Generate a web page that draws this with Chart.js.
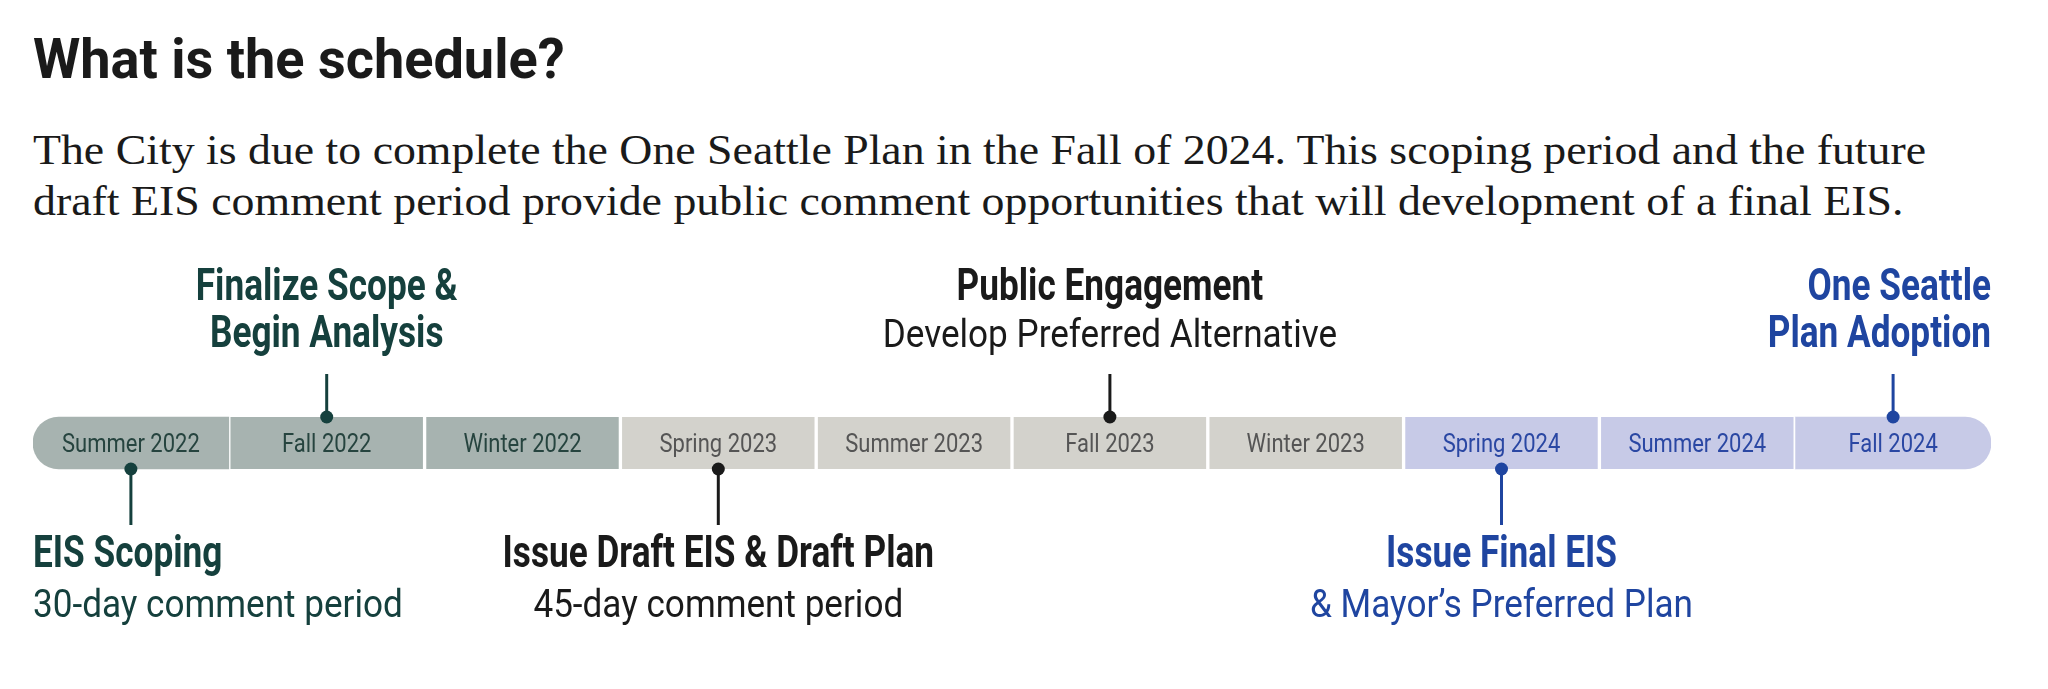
<!DOCTYPE html>
<html><head><meta charset="utf-8">
<script src="https://cdn.jsdelivr.net/npm/chart.js@4"></script>
<style>
html,body{margin:0;padding:0;background:#fff;width:2048px;height:689px;overflow:hidden;position:relative}
#h{position:absolute;left:33px;top:26px;font:700 56px Roboto;color:#1a1a1a;white-space:nowrap;transform-origin:0 0;margin:0}
.p{position:absolute;left:33px;font:42px "Liberation Serif";color:#1a1a1a;white-space:nowrap;transform-origin:0 0}
#wrap{position:absolute;left:0;top:260px;width:2048px;height:429px}
</style></head><body>
<div id="h">What is the schedule?</div>
<div class="p" id="p1" style="top:126px">The City is due to complete the One Seattle Plan in the Fall of 2024. This scoping period and the future</div>
<div class="p" id="p2" style="top:177px">draft EIS comment period provide public comment opportunities that will development of a final EIS.</div>
<div id="wrap"><canvas id="c"></canvas></div>
<script>
const seasons = ["Summer 2022","Fall 2022","Winter 2022","Spring 2023","Summer 2023","Fall 2023","Winter 2023","Spring 2024","Summer 2024","Fall 2024"];
const phase = ["g","g","g","k","k","k","k","b","b","b"];
const fills = {g:"#a7b3b0",k:"#d3d2cc",b:"#c7cae7"};
const textCol = {g:"#26443f",k:"#555555",b:"#2a47a3"};
const markCol = {g:"#15403d",k:"#1a1a1a",b:"#1f45a0"};
const msIndex = [0,1,3,5,7,9];
const msSide  = ["down","up","down","up","down","up"];
const msPhase = ["g","g","k","k","b","b"];
const msBold  = [["EIS Scoping"],["Finalize Scope &","Begin Analysis"],["Issue Draft EIS & Draft Plan"],["Public Engagement"],["Issue Final EIS"],["One Seattle","Plan Adoption"]];
const msReg   = [["30-day comment period"],[],["45-day comment period"],["Develop Preferred Alternative"],["& Mayor’s Preferred Plan"],[]];
const msAlign = ["left","center","center","center","center","right"];

function fit(id,w){const e=document.getElementById(id);e.style.transform='scaleX('+(w/e.scrollWidth)+')';}
fit('h',532);fit('p1',1893);fit('p2',1870);

function txt(ctx,s,x,y,align,sx){
  const w=ctx.measureText(s).width*sx;
  let x0 = align==='left'?x:align==='right'?x-w:x-w/2;
  ctx.save();ctx.translate(x0,y);ctx.scale(sx,1);ctx.textAlign='left';ctx.fillText(s,0,0);ctx.restore();
}
const deco={id:'deco',afterDatasetsDraw(chart){
  const ctx=chart.ctx, xs=chart.scales.x;
  const bar=chart.getDatasetMeta(0).data[0];
  const top=bar.y-26, bot=bar.y+26;
  ctx.textBaseline='alphabetic';
  seasons.forEach((s,i)=>{
    ctx.fillStyle=textCol[phase[i]];ctx.font='25px Roboto';
    txt(ctx,s,xs.getPixelForValue(i+0.5),bar.y+9,'center',0.88);
  });
  msIndex.forEach((si,k)=>{
    const x=xs.getPixelForValue(si+0.5), c=markCol[msPhase[k]];
    ctx.strokeStyle=c;ctx.fillStyle=c;ctx.lineWidth=3;
    ctx.beginPath();
    const up=msSide[k]==='up';
    const y0=up?top:bot, y1=up?top-43:bot+56;
    ctx.moveTo(x,y0);ctx.lineTo(x,y1);ctx.stroke();
    ctx.beginPath();ctx.arc(x,y0,6.5,0,Math.PI*2);ctx.fill();
    const lines=msBold[k].map(t=>[t,true]).concat(msReg[k].map(t=>[t,false]));
    const ax = msAlign[k]==='left'?xs.left:msAlign[k]==='right'?xs.right:x;
    lines.forEach((L,j)=>{
      let y = up ? (top-43-27-(lines.length-1-j)*47) : (bot+56+42+j*50);
      ctx.font=(L[1]?'700 44px Roboto':'39px Roboto');
      txt(ctx,L[0],ax,y,msAlign[k],L[1]?0.8:0.9);
    });
  });
}};
new Chart(document.getElementById('c'),{
  type:'bar',
  data:{labels:['t'],datasets:seasons.map((s,i)=>({
    label:s,data:[[i,i+1]],backgroundColor:fills[phase[i]],
    borderColor:'#ffffff',borderWidth:i===0?{right:2}:i===9?{left:2}:{left:2,right:2},
    borderRadius:(i===0||i===9)?26:0,
    borderSkipped:i===0?'right':i===9?'left':false,
    barThickness:52
  }))},
  options:{indexAxis:'y',responsive:true,maintainAspectRatio:false,animation:false,
    layout:{padding:{left:33,right:57,top:0,bottom:63}},
    plugins:{legend:{display:false},tooltip:{enabled:false}},
    scales:{x:{type:'linear',min:0,max:10,display:false},y:{stacked:true,display:false}}
  },
  plugins:[deco]
});
</script>
</body></html>
